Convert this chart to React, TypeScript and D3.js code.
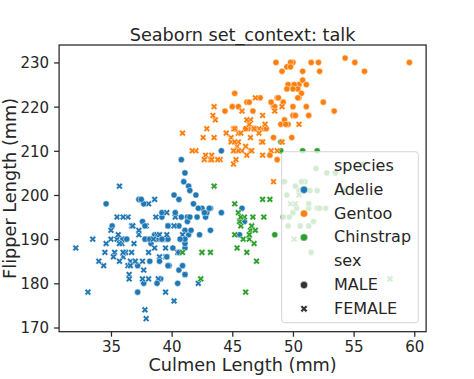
import React, { useEffect, useRef } from 'react';
import * as d3 from 'd3';

type Row = [number, number, string];

// culmen length, flipper length, sex (M/F)
const adelie: Row[] = [
  [39.1,181,'M'],[39.5,186,'F'],[40.3,195,'F'],[36.7,193,'F'],[39.3,190,'M'],[38.9,181,'F'],[39.2,195,'M'],
  [41.1,182,'F'],[38.6,191,'M'],[34.6,198,'M'],[36.6,185,'F'],[38.7,195,'F'],[42.5,197,'M'],[34.4,184,'F'],[46.0,194,'M'],
  [37.8,174,'F'],[37.7,180,'M'],[35.9,189,'F'],[38.2,185,'M'],[38.8,180,'M'],[35.3,187,'F'],[40.6,183,'M'],[40.5,187,'F'],[37.9,172,'F'],[40.5,180,'M'],
  [39.5,178,'F'],[37.2,178,'M'],[39.5,188,'F'],[40.9,184,'M'],[36.4,195,'F'],[39.2,196,'M'],[38.8,190,'M'],[42.2,180,'F'],[37.6,181,'F'],[39.8,184,'M'],
  [36.5,182,'F'],[40.8,195,'M'],[36.0,186,'F'],[44.1,196,'M'],[37.0,185,'F'],[39.6,190,'M'],[41.1,182,'M'],[36.0,190,'F'],[42.3,191,'M'],
  [39.6,186,'F'],[40.1,188,'M'],[35.0,190,'F'],[42.0,200,'M'],[34.5,187,'F'],[41.4,191,'M'],[39.0,186,'F'],[40.6,193,'M'],[36.5,181,'F'],[37.6,194,'M'],
  [35.7,185,'F'],[41.3,195,'M'],[37.6,185,'F'],[41.1,192,'M'],[36.4,184,'F'],[41.6,192,'M'],[35.5,195,'F'],[41.1,188,'M'],
  [35.9,190,'F'],[41.8,198,'M'],[33.5,190,'F'],[39.7,190,'M'],[39.6,196,'F'],[45.8,197,'M'],[35.5,190,'F'],[42.8,195,'M'],[40.9,191,'F'],[37.2,184,'M'],
  [36.2,187,'F'],[42.1,195,'M'],[34.6,189,'F'],[42.9,196,'M'],[36.7,187,'F'],[35.1,193,'M'],
  [37.3,191,'F'],[41.3,194,'M'],[36.3,190,'M'],[36.9,189,'F'],[38.3,189,'M'],[38.9,190,'F'],[35.7,202,'F'],[41.1,205,'M'],[34.0,185,'F'],[39.6,186,'M'],
  [36.2,187,'F'],[40.8,208,'M'],[38.1,190,'F'],[40.3,196,'M'],[33.1,178,'F'],[43.2,192,'M'],
  [35.0,192,'F'],[41.0,203,'M'],[37.7,183,'F'],[37.8,190,'M'],[37.9,193,'F'],[39.7,184,'M'],[38.6,199,'F'],[38.2,190,'M'],[38.1,181,'F'],[43.2,197,'M'],
  [38.1,198,'F'],[45.6,191,'M'],[39.7,193,'F'],[42.2,197,'M'],[39.6,191,'F'],[42.7,196,'M'],
  [38.6,188,'F'],[37.3,199,'M'],[35.7,189,'F'],[41.1,189,'M'],[36.2,187,'F'],[37.7,198,'M'],[40.2,176,'F'],[41.4,202,'M'],[35.2,186,'F'],[40.6,199,'M'],
  [38.8,191,'F'],[41.5,195,'M'],[39.0,191,'F'],[44.1,210,'M'],[38.5,190,'F'],[43.1,197,'M'],
  [36.8,193,'F'],[37.5,199,'M'],[38.1,187,'F'],[41.1,190,'M'],[35.6,191,'F'],[40.2,200,'M'],[37.0,185,'F'],[39.7,193,'M'],[40.2,193,'F'],[40.6,187,'M'],
  [32.1,188,'F'],[40.7,190,'M'],[37.3,192,'F'],[39.0,185,'M'],[39.2,190,'M'],[36.6,184,'F'],[36.0,195,'F'],[37.8,193,'M'],[36.0,187,'F'],[41.5,201,'M'],
];

const chinstrap: Row[] = [
  [46.5,192,'F'],[50.0,196,'M'],[51.3,193,'M'],[45.4,188,'F'],[52.7,197,'M'],[45.2,198,'F'],[46.1,178,'F'],[51.3,197,'M'],[46.0,195,'F'],[51.3,198,'M'],
  [46.6,193,'F'],[51.7,194,'M'],[47.0,185,'F'],[52.0,201,'M'],[45.9,190,'F'],[50.5,201,'M'],[50.3,197,'M'],[58.0,181,'F'],[46.4,190,'F'],[49.2,195,'M'],
  [42.4,181,'F'],[48.5,191,'M'],[43.2,187,'F'],[50.6,193,'M'],[46.7,195,'F'],[52.0,197,'M'],[50.5,200,'F'],[49.5,200,'M'],[46.4,191,'F'],[52.8,205,'M'],
  [40.9,187,'F'],[54.2,201,'M'],[42.5,187,'F'],[51.0,203,'M'],[49.7,195,'M'],[47.5,199,'F'],[47.6,195,'F'],[52.0,210,'M'],[46.9,192,'F'],[53.5,205,'M'],
  [49.0,210,'M'],[46.2,187,'F'],[50.9,196,'M'],[45.5,196,'F'],[50.9,196,'F'],[50.8,201,'M'],[50.1,190,'F'],[49.0,212,'M'],[51.5,187,'M'],[49.8,198,'F'],
  [48.1,199,'F'],[51.4,201,'M'],[45.7,193,'F'],[50.7,203,'M'],[42.5,187,'F'],[52.2,197,'M'],[45.2,191,'F'],[49.3,203,'M'],[50.2,202,'M'],[45.6,194,'F'],
  [51.9,206,'M'],[46.8,189,'F'],[45.7,195,'F'],[55.8,207,'M'],[43.5,202,'F'],[49.6,193,'M'],[50.8,210,'M'],[50.2,198,'F'],
];

const gentoo: Row[] = [
  [46.1,211,'F'],[50.0,230,'M'],[48.7,210,'F'],[50.0,218,'M'],[47.6,215,'M'],[46.5,210,'F'],[45.4,211,'F'],[46.7,219,'M'],[43.3,209,'F'],[46.8,215,'M'],
  [40.9,214,'F'],[49.0,216,'M'],[45.5,214,'F'],[48.4,213,'M'],[45.8,210,'F'],[49.3,217,'M'],[42.0,210,'F'],[49.2,221,'M'],[46.2,209,'F'],[48.7,222,'M'],
  [50.2,218,'M'],[45.1,215,'F'],[46.5,213,'F'],[46.3,215,'M'],[42.9,215,'F'],[46.1,215,'M'],[47.8,215,'M'],[48.2,210,'F'],[50.0,220,'M'],
  [47.3,222,'M'],[42.8,209,'F'],[45.1,207,'F'],[59.6,230,'M'],[49.1,220,'F'],[48.4,220,'M'],[42.6,213,'F'],[44.4,219,'M'],[44.0,208,'F'],[48.7,208,'M'],
  [42.7,208,'F'],[49.6,225,'M'],[45.3,210,'F'],[49.6,216,'M'],[50.5,222,'M'],[43.6,217,'F'],[45.5,210,'F'],[50.5,225,'M'],[44.9,213,'F'],[45.2,215,'M'],
  [46.6,210,'F'],[48.5,220,'M'],[45.1,210,'F'],[50.1,225,'M'],[46.5,217,'F'],[45.0,220,'M'],[43.8,208,'F'],[45.5,220,'M'],[43.2,208,'F'],[50.4,224,'M'],
  [45.3,208,'F'],[46.2,221,'M'],[45.7,214,'F'],[54.3,231,'M'],[45.8,219,'F'],[49.8,230,'M'],[49.5,229,'M'],[43.5,220,'F'],[50.7,223,'M'],
  [47.7,216,'F'],[46.4,221,'M'],[48.2,221,'M'],[46.5,217,'F'],[46.4,216,'F'],[48.6,230,'M'],[47.5,209,'F'],[51.1,220,'M'],[45.2,215,'F'],[45.2,223,'M'],
  [49.1,212,'F'],[52.5,221,'M'],[47.4,212,'F'],[50.0,224,'M'],[44.9,212,'F'],[50.8,228,'M'],[43.4,218,'F'],[51.3,218,'M'],[47.5,212,'F'],[52.1,230,'M'],
  [47.5,218,'F'],[52.2,228,'M'],[45.5,212,'F'],[49.5,224,'M'],[44.5,214,'F'],[50.8,226,'M'],[49.4,216,'M'],[46.9,222,'F'],[48.4,203,'F'],[51.1,225,'M'],
  [48.5,219,'F'],[55.9,228,'M'],[47.2,215,'F'],[49.1,228,'M'],[46.8,215,'M'],[41.7,210,'F'],[53.4,219,'M'],[43.3,208,'F'],[48.1,209,'M'],
  [50.5,216,'F'],[49.8,229,'M'],[43.5,213,'F'],[51.5,230,'M'],[46.2,217,'F'],[55.1,230,'M'],[48.8,222,'M'],[47.2,214,'F'],[46.8,215,'F'],
  [50.4,222,'M'],[45.2,212,'F'],[49.9,213,'M'],
];

const speciesNames = ['Adelie', 'Gentoo', 'Chinstrap'];
const speciesColors = ['#1f77b4', '#ff7f0e', '#2ca02c'];
const sexNames = ['MALE', 'FEMALE'];
const xTicks = [35, 40, 45, 50, 55, 60];
const yTicks = [170, 180, 190, 200, 210, 220, 230];

// matplotlib filled 'X' marker outline
const xMarker = (size: number) => {
  const pts = [[-1,-2],[0,-1],[1,-2],[2,-1],[1,0],[2,1],[1,2],[0,1],[-1,2],[-2,1],[-1,0],[-2,-1]];
  return 'M' + pts.map(p => `${(p[0] * size) / 4},${(p[1] * size) / 4}`).join('L') + 'Z';
};

const App = () => {
  const svgRef = useRef<SVGSVGElement>(null);

  useEffect(() => {
    const width = 474;
    const height = 379;
    const left = 59.1, right = 426.1, top = 45, bottom = 331.7;
    const font = 'DejaVu Sans, sans-serif';
    const ink = '#262626';

    const svg = d3.select(svgRef.current)
      .attr('width', width)
      .attr('height', height);
    svg.selectAll('*').remove();

    // rows in file order: Adelie, Chinstrap, Gentoo
    const points = [
      ...adelie.map(d => ({ x: d[0], y: d[1], sex: d[2], species: 'Adelie' })),
      ...chinstrap.map(d => ({ x: d[0], y: d[1], sex: d[2], species: 'Chinstrap' })),
      ...gentoo.map(d => ({ x: d[0], y: d[1], sex: d[2], species: 'Gentoo' })),
    ];

    // matplotlib style 5% margins
    const pad = (ext: [number, number]) => {
      const m = (ext[1] - ext[0]) * 0.05;
      return [ext[0] - m, ext[1] + m];
    };
    const xScale = d3.scaleLinear()
      .domain(pad(d3.extent(points, d => d.x) as [number, number]))
      .range([left, right]);
    const yScale = d3.scaleLinear()
      .domain(pad(d3.extent(points, d => d.y) as [number, number]))
      .range([bottom, top]);
    const color = d3.scaleOrdinal<string, string>().domain(speciesNames).range(speciesColors);

    // points
    const dots = svg.append('g');
    dots.selectAll('path')
      .data(points)
      .enter()
      .append('path')
      .attr('transform', d => `translate(${xScale(d.x)},${yScale(d.y)})`)
      .attr('d', d => d.sex === 'M' ? d3.symbol(d3.symbolCircle, Math.PI * 3.1 * 3.1)()! : xMarker(6.6))
      .attr('fill', d => color(d.species))
      .attr('stroke', 'white')
      .attr('stroke-width', 0.5);

    // frame
    svg.append('rect')
      .attr('x', left).attr('y', top)
      .attr('width', right - left).attr('height', bottom - top)
      .attr('fill', 'none')
      .attr('stroke', ink)
      .attr('stroke-width', 1.25);

    // x axis
    const xAxis = svg.append('g')
      .attr('transform', `translate(0,${bottom})`)
      .call(d3.axisBottom(xScale).tickValues(xTicks).tickSize(5).tickPadding(4));
    xAxis.select('.domain').remove();
    xAxis.selectAll('line').attr('stroke', ink).attr('stroke-width', 1.25);
    xAxis.selectAll('text')
      .attr('fill', ink)
      .attr('font-family', font)
      .attr('font-size', 15)
      .attr('dy', null)
      .attr('y', 20.5);

    // y axis
    const yAxis = svg.append('g')
      .attr('transform', `translate(${left},0)`)
      .call(d3.axisLeft(yScale).tickValues(yTicks).tickSize(5).tickPadding(5));
    yAxis.select('.domain').remove();
    yAxis.selectAll('line').attr('stroke', ink).attr('stroke-width', 1.25);
    yAxis.selectAll('text')
      .attr('fill', ink)
      .attr('font-family', font)
      .attr('font-size', 15)
      .attr('dy', '0.36em');

    const cx = (left + right) / 2;
    // title
    svg.append('text')
      .attr('x', cx).attr('y', 41)
      .attr('text-anchor', 'middle')
      .attr('font-family', font).attr('font-size', 17.7).attr('fill', ink)
      .text('Seaborn set_context: talk');

    // X axis label
    svg.append('text')
      .attr('x', cx).attr('y', 371)
      .attr('text-anchor', 'middle')
      .attr('font-family', font).attr('font-size', 17.7).attr('fill', ink)
      .text('Culmen Length (mm)');

    // Y axis label
    svg.append('text')
      .attr('transform', `translate(16,${(top + bottom) / 2}) rotate(-90)`)
      .attr('text-anchor', 'middle')
      .attr('font-family', font).attr('font-size', 17.7).attr('fill', ink)
      .text('Flipper Length (mm)');

    // legend
    const legend = svg.append('g');
    legend.append('rect')
      .attr('x', 281.7).attr('y', 151.7)
      .attr('width', 136.6).attr('height', 171)
      .attr('rx', 3)
      .attr('fill', 'white').attr('fill-opacity', 0.8)
      .attr('stroke', '#d6d6d6').attr('stroke-width', 1);

    const entries = [
      { label: 'species', kind: 'title', fill: '' },
      ...speciesNames.map((s, i) => ({ label: s, kind: 'circle', fill: speciesColors[i] })),
      { label: 'sex', kind: 'title', fill: '' },
      { label: sexNames[0], kind: 'circle', fill: '#333333' },
      { label: sexNames[1], kind: 'x', fill: '#333333' },
    ];
    entries.forEach((e, i) => {
      const ly = 166 + i * 23.8;
      if (e.kind === 'circle') {
        legend.append('circle')
          .attr('cx', 304).attr('cy', ly).attr('r', 3.7)
          .attr('fill', e.fill).attr('stroke', 'white').attr('stroke-width', 0.5);
      } else if (e.kind === 'x') {
        legend.append('path')
          .attr('transform', `translate(304,${ly})`)
          .attr('d', xMarker(7.2))
          .attr('fill', e.fill).attr('stroke', 'white').attr('stroke-width', 0.5);
      }
      legend.append('text')
        .attr('x', 334).attr('y', ly + 5)
        .attr('font-family', font).attr('font-size', 16).attr('fill', ink)
        .text(e.label);
    });
  }, []);

  return (
    <svg ref={svgRef} width={474} height={379} style={{ position: 'absolute', left: 0, top: 0, background: 'white' }}></svg>
  );
};

export default App;
